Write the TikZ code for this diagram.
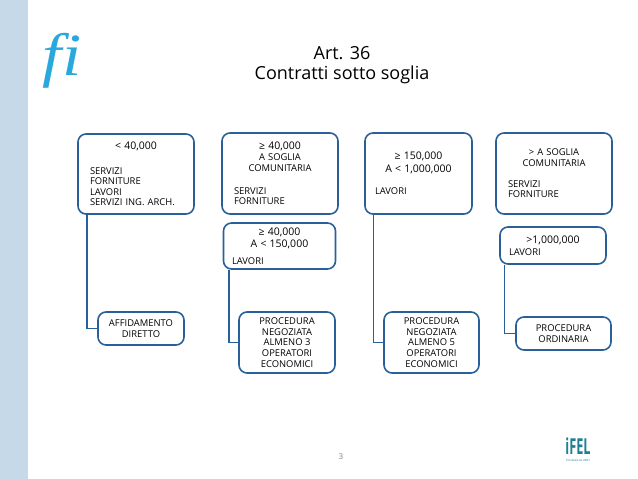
\documentclass[tikz,border=0pt]{standalone}
\usepackage{fontspec}
\setmainfont{Open Sans}
\newfontfamily\logofont{Liberation Serif}
\definecolor{sidebar}{HTML}{C5D9E8}
\definecolor{boxline}{HTML}{2A6099}
\definecolor{logoblue}{HTML}{29A8DC}
\definecolor{ifelteal}{HTML}{1F7F95}
\newcommand{\amountsize}{\fontsize{10.5}{12.5}\selectfont}
\newcommand{\labelsize}{\fontsize{9.4}{10.6}\selectfont}
\tikzset{
	box/.style={draw=boxline, line width=1.6pt, rounded corners=8pt, inner sep=0pt, fill=white, font=\labelsize},
	link/.style={draw=boxline, line width=1.5pt},
}
\begin{document}
\begin{tikzpicture}[x=1pt, y=-1pt]
	\useasboundingbox (0, 0) rectangle (638, 479);
	%%%%% BACKGROUND %%%%%
	\fill[sidebar] (0, 0) rectangle (28, 479);
	\node[xscale=1.15] (logo) at (62, 61) {\logofont\itshape\fontsize{60}{60}\selectfont\textcolor{logoblue}{fi}};
	\node[align=center, font=\fontsize{18}{20}\selectfont] (title) at (342, 65) {Art. 36\\Contratti sotto soglia};
	\node[text=gray, font=\fontsize{8}{10}\selectfont] (page) at (341, 457) {3};
	\node[xscale=0.58, inner sep=0pt, text=ifelteal, font=\bfseries\fontsize{22}{22}\selectfont] (ifel) at (578, 446) {iFEL};
	\node[inner sep=0pt, text=ifelteal, font=\fontsize{3}{3}\selectfont] (ifelsub) at (578, 460) {Fondazione ANCI};

	%%%%% TOP ROW %%%%%
	\node[box, minimum width=116, minimum height=80, text width=92] (b1) at (136, 174) {
		{\centering\amountsize < 40,000\par}\vspace{14pt}
		SERVIZI\\FORNITURE\\LAVORI\\SERVIZI ING. ARCH.};
	\node[box, minimum width=116, minimum height=81, text width=92] (b2) at (280, 173.5) {
		{\centering{\amountsize ≥ 40,000\par}A SOGLIA\\COMUNITARIA\par}\vspace{12.5pt}
		SERVIZI\\FORNITURE\par\vspace{12.5pt}};
	\node[box, minimum width=107, minimum height=81, text width=87] (b3) at (418.5, 173.5) {
		{\centering\amountsize ≥ 150,000\\A < 1,000,000\par}\vspace{12pt}
		LAVORI\par\vspace{-8pt}};
	\node[box, minimum width=116, minimum height=81, text width=92] (b4) at (554, 173.5) {
		{\centering > A SOGLIA\\COMUNITARIA\par}\vspace{10pt}
		SERVIZI\\FORNITURE\par\vspace{18pt}};

	%%%%% SECOND ROW %%%%%
	\node[box, minimum width=112, minimum height=46, text width=95] (b2b) at (279.5, 246) {
		{\centering\amountsize ≥ 40,000\\A < 150,000\par}\vspace{6pt}
		LAVORI\par\vspace{-5pt}};
	\node[box, minimum width=106, minimum height=37, text width=88] (b4b) at (553, 245.5) {
		{\centering\amountsize >1,000,000\par}\vspace{1pt}
		LAVORI};

	%%%%% LEAVES %%%%%
	\node[box, align=center, minimum width=86, minimum height=33] (l1) at (141, 328.5) {AFFIDAMENTO\\DIRETTO};
	\node[box, align=center, minimum width=96, minimum height=61] (l2) at (287, 342.5) {PROCEDURA\\NEGOZIATA\\ALMENO 3\\OPERATORI\\ECONOMICI};
	\node[box, align=center, minimum width=95, minimum height=61] (l3) at (431.5, 342.5) {PROCEDURA\\NEGOZIATA\\ALMENO 5\\OPERATORI\\ECONOMICI};
	\node[box, align=center, minimum width=95, minimum height=33] (l4) at (563.5, 333.5) {PROCEDURA\\ORDINARIA};

	%%%%% LINKS %%%%%
	\draw[link] ([xshift=10]b1.south west) |- (l1.west);
	\draw[link] ([xshift=6.5]b2b.south west) |- (l2.west);
	\draw[link] ([xshift=9.5]b3.south west) |- (l3.west);
	\draw[link] ([xshift=5.5]b4b.south west) |- (l4.west);
\end{tikzpicture}
\end{document}
